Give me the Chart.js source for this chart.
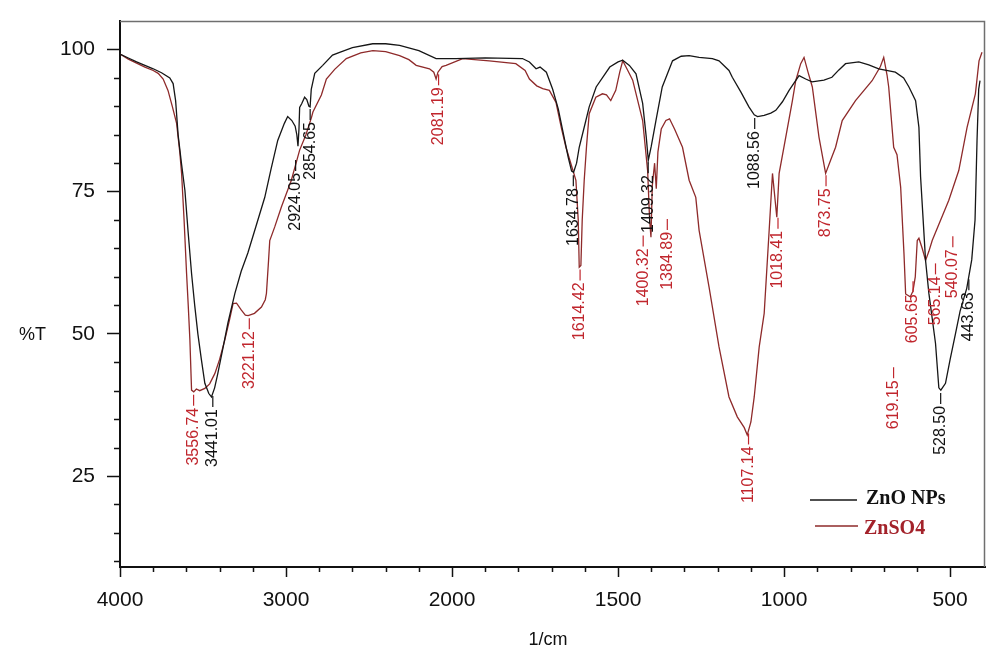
<!DOCTYPE html>
<html>
<head>
<meta charset="utf-8">
<script src="https://cdn.jsdelivr.net/npm/chart.js@4.4.1/dist/chart.umd.min.js"></script>
<style>
  html, body { margin: 0; padding: 0; background: #fff; }
  #wrap { width: 1000px; height: 653px; }
</style>
</head>
<body>
<div id="wrap"><canvas id="ftirChart" width="1000" height="653"></canvas></div>
<script>
// spectra (wavenumber in 1/cm, transmittance in %T)
const zincOxideWn = [4000, 3950, 3900, 3850, 3800, 3750, 3700, 3680, 3665, 3650, 3630, 3609, 3590, 3569, 3550, 3531, 3510, 3489, 3465, 3449,
  3430, 3411, 3380, 3350, 3308, 3270, 3230, 3180, 3128, 3090, 3050, 3010, 2990, 2965, 2945, 2935, 2928, 2922, 2918, 2905,
  2888, 2875, 2862, 2855, 2848, 2827, 2779, 2720, 2677, 2600, 2478, 2400, 2316, 2200, 2096, 1988, 1900, 1788, 1767, 1747,
  1735, 1716, 1697, 1680, 1667, 1650, 1640, 1634, 1625, 1617, 1597, 1587, 1566, 1525, 1500, 1486, 1466, 1446, 1426, 1415,
  1409, 1400, 1386, 1367, 1336, 1310, 1286, 1256, 1216, 1196, 1166, 1156, 1130, 1106, 1090, 1080, 1060, 1040, 1025, 1005,
  985, 955, 935, 916, 880, 856, 835, 815, 775, 745, 715, 665, 640, 624, 604, 594, 589, 580, 574, 564,
  544, 534, 528, 514, 500, 484, 470, 450, 435, 425, 419, 414, 410];
const zincOxideT = [99.2, 98.5, 97.8, 97.2, 96.6, 95.9, 95.0, 94.0, 91.0, 85.0, 80.0, 75.2, 68.0, 60.6, 55.0, 50.0, 45.5, 41.3, 39.5, 38.9,
  40.5, 43.0, 47.5, 51.9, 57.1, 61.0, 64.2, 69.0, 74.0, 79.0, 84.0, 87.0, 88.2, 87.5, 86.5, 85.0, 83.0, 86.0, 89.8, 90.5,
  91.6, 91.2, 90.0, 89.9, 93.0, 95.8, 97.2, 99.0, 99.5, 100.3, 101.0, 101.0, 100.7, 99.8, 98.4, 98.4, 98.5, 98.4, 97.8, 96.6,
  96.9, 96.0, 93.0, 89.5, 85.8, 81.0, 78.6, 78.4, 80.0, 82.8, 87.5, 89.9, 93.4, 96.9, 97.8, 98.1, 97.2, 95.7, 90.5, 84.5,
  80.5, 83.0, 87.5, 93.4, 98.0, 98.8, 98.9, 98.6, 98.4, 98.0, 96.3, 95.1, 92.5, 89.9, 88.5, 88.2, 88.4, 88.8, 89.3, 90.8,
  92.8, 95.4, 94.8, 94.3, 94.6, 95.1, 96.4, 97.5, 97.8, 97.3, 96.6, 96.0, 95.0, 93.4, 91.0, 86.3, 77.6, 68.8, 62.9, 57.1,
  48.3, 40.5, 40.1, 41.3, 45.5, 50.0, 54.0, 58.0, 63.0, 70.0, 84.0, 93.0, 94.5];

const zincSulfateWn = [4000, 3950, 3900, 3850, 3800, 3770, 3740, 3711, 3685, 3659, 3640, 3629, 3614, 3599, 3589, 3579, 3569, 3556, 3540, 3520,
  3489, 3460, 3429, 3400, 3369, 3340, 3319, 3298, 3270, 3245, 3228, 3190, 3148, 3125, 3118, 3105, 3098, 3068, 3028, 2968,
  2918, 2880, 2847, 2838, 2787, 2757, 2707, 2637, 2550, 2477, 2400, 2316, 2260, 2216, 2136, 2110, 2096, 2085, 2060, 2036,
  1968, 1888, 1808, 1780, 1767, 1745, 1727, 1707, 1687, 1670, 1657, 1640, 1627, 1620, 1617, 1612, 1608, 1602, 1595, 1587,
  1567, 1547, 1535, 1522, 1507, 1495, 1486, 1470, 1456, 1426, 1411, 1405, 1401, 1397, 1390, 1385, 1380, 1370, 1356, 1345,
  1330, 1306, 1286, 1266, 1256, 1226, 1196, 1166, 1141, 1120, 1111, 1100, 1090, 1075, 1060, 1045, 1035, 1022, 1015, 995,
  975, 965, 950, 940, 928, 915, 895, 875, 860, 845, 825, 785, 735, 710, 700, 690, 685, 670, 660, 649,
  639, 634, 620, 612, 605, 599, 594, 584, 574, 564, 554, 504, 474, 449, 424, 413, 404];
const zincSulfateT = [99.2, 98.3, 97.6, 96.9, 96.3, 95.8, 94.8, 92.8, 90.0, 87.0, 82.0, 78.2, 70.0, 60.6, 55.0, 48.9, 40.1, 39.8, 40.3, 40.0,
  40.4, 41.2, 43.0, 45.5, 48.9, 52.5, 55.3, 55.4, 54.2, 53.3, 53.2, 53.6, 54.7, 56.0, 57.1, 63.0, 66.4, 68.8, 72.3, 77.0,
  82.3, 85.0, 88.0, 89.0, 92.0, 94.8, 96.5, 98.4, 99.4, 99.8, 99.6, 98.9, 98.2, 97.2, 96.6, 96.0, 94.8, 96.0, 97.0, 97.2,
  98.4, 98.0, 97.5, 96.3, 94.8, 93.6, 93.1, 92.8, 90.7, 86.0, 82.8, 79.5, 77.0, 70.0, 61.7, 62.0, 70.0, 77.0, 83.0, 88.7,
  91.6, 92.2, 92.0, 91.0, 92.8, 96.0, 98.0, 96.2, 94.6, 87.5, 78.7, 70.0, 67.0, 76.0, 80.0, 75.5, 82.0, 86.0, 87.5, 87.8,
  86.0, 82.8, 77.0, 74.0, 68.2, 58.2, 47.7, 38.9, 35.4, 33.5, 32.2, 34.5, 38.9, 47.7, 53.6, 68.2, 78.2, 70.5, 78.2, 84.6,
  91.0, 94.5, 97.5, 98.6, 96.0, 93.4, 84.6, 78.2, 80.5, 82.8, 87.5, 91.0, 94.5, 97.0, 98.6, 95.5, 93.4, 82.8, 81.5, 75.8,
  64.1, 57.0, 56.5, 57.5, 60.0, 66.4, 66.8, 65.0, 62.9, 64.5, 66.4, 73.5, 78.7, 86.3, 92.2, 98.0, 99.5];

// marked peaks
const zincOxidePeaks = [3441.01, 2924.05, 2854.65, 1634.78, 1409.32, 1088.56, 528.50, 443.63];
const zincSulfatePeaks = [3556.74, 3221.12, 2081.19, 1614.42, 1400.32, 1384.89, 1107.14, 1018.41, 873.75, 619.15, 605.65, 565.14, 540.07];

// axis ticks
const xMajorTicks = [4000, 3000, 2000, 1500, 1000, 500];
const xMinorTicks = [3800, 3600, 3400, 3200, 2800, 2600, 2400, 2200, 1900, 1800, 1700, 1600, 1400, 1300, 1200, 1100, 900, 800, 700, 600];
const yMajorTicks = [25, 50, 75, 100];
const yMinorTicks = [10, 15, 20, 30, 35, 40, 45, 55, 60, 65, 70, 80, 85, 90, 95];

const seriesNames = ["ZnO NPs", "ZnSO4"];

const TICK_FONT = "'Liberation Sans', Arial, sans-serif";
const RED_LINE = "#8e2a2a";
const RED_TEXT = "#c0262d";

// label shifts (px) where the software moved crowded labels
const labelShift = {
  "2924.05": [-3, 22], "1400.32": [-8, 4], "1384.89": [11, 28], "1018.41": [0, 20],
  "619.15": [-17, 68], "605.65": [-2, 0], "565.14": [7, 8], "540.07": [16, 4]
};

// FTIR axis: 4000-2000 compressed, 2000-400 at double scale
function wnToUnit(v) { return v >= 2000 ? (4000 - v) / 1000 : 2 + (2000 - v) / 500; }
function unitToWn(u) { return u <= 2 ? 4000 - u * 1000 : 2000 - (u - 2) * 500; }

class FtirScale extends Chart.LinearScale {
  getPixelForValue(value) {
    if (value === null || isNaN(value)) return NaN;
    const u0 = wnToUnit(this.max), u1 = wnToUnit(this.min);
    return this.getPixelForDecimal((wnToUnit(value) - u0) / (u1 - u0));
  }
  getValueForPixel(pixel) {
    const u0 = wnToUnit(this.max), u1 = wnToUnit(this.min);
    return unitToWn(u0 + this.getDecimalForPixel(pixel) * (u1 - u0));
  }
  buildTicks() {
    return xMajorTicks.map(v => ({ value: v }));
  }
}
FtirScale.id = "ftir";
FtirScale.defaults = Chart.LinearScale.defaults;
Chart.register(FtirScale);

function valueAt(wns, ts, w) {
  for (let i = 0; i < wns.length - 1; i++) {
    if (w <= wns[i] && w >= wns[i + 1]) {
      const f = (wns[i] - w) / (wns[i] - wns[i + 1]);
      return ts[i] + f * (ts[i + 1] - ts[i]);
    }
  }
  return ts[ts.length - 1];
}

const minorTicksPlugin = {
  id: "minorTicks",
  afterDraw(chart) {
    const { ctx, chartArea: a, scales: { x, y } } = chart;
    ctx.save();
    ctx.strokeStyle = "#111";
    ctx.lineWidth = 1.5;
    ctx.beginPath();
    xMinorTicks.forEach(v => {
      const px = Math.round(x.getPixelForValue(v)) + 0.5;
      ctx.moveTo(px, a.bottom);
      ctx.lineTo(px, a.bottom + 5);
    });
    yMinorTicks.forEach(v => {
      const py = Math.round(y.getPixelForValue(v)) + 0.5;
      ctx.moveTo(a.left, py);
      ctx.lineTo(a.left - 6, py);
    });
    ctx.stroke();
    // top and right frame
    ctx.strokeStyle = "#6f6f6f";
    ctx.beginPath();
    ctx.moveTo(a.left, a.top + 0.5);
    ctx.lineTo(a.right - 0.5, a.top + 0.5);
    ctx.lineTo(a.right - 0.5, a.bottom);
    ctx.stroke();
    // axis titles
    ctx.fillStyle = "#111";
    ctx.font = "18px " + TICK_FONT;
    ctx.textBaseline = "middle";
    ctx.textAlign = "left";
    ctx.fillText("%T", 19, 335);
    ctx.textAlign = "center";
    ctx.fillText("1/cm", 548, 640);
    ctx.restore();
  }
};

const peakLabelPlugin = {
  id: "peakLabels",
  afterDatasetsDraw(chart) {
    const { ctx, scales: { x, y } } = chart;
    const groups = [
      { peaks: zincOxidePeaks, wn: zincOxideWn, t: zincOxideT, color: "#111" },
      { peaks: zincSulfatePeaks, wn: zincSulfateWn, t: zincSulfateT, color: RED_TEXT }
    ];
    ctx.save();
    ctx.font = "16px " + TICK_FONT;
    ctx.textBaseline = "middle";
    ctx.textAlign = "right";
    groups.forEach(g => {
      g.peaks.forEach(p => {
        const txt = p.toFixed(2);
        const shift = labelShift[txt] || [0, 0];
        const px = x.getPixelForValue(p) + shift[0];
        const py = y.getPixelForValue(valueAt(g.wn, g.t, p)) + 3 + shift[1];
        ctx.save();
        ctx.translate(px, py);
        ctx.rotate(-Math.PI / 2);
        ctx.strokeStyle = g.color;
        ctx.fillStyle = g.color;
        ctx.lineWidth = 1.2;
        ctx.beginPath();
        ctx.moveTo(0, 0);
        ctx.lineTo(-11, 0);
        ctx.stroke();
        ctx.fillText(txt, -13, 0);
        ctx.restore();
      });
    });
    ctx.restore();
  }
};

const legendPlugin = {
  id: "insideLegend",
  afterDraw(chart) {
    const { ctx } = chart;
    const rows = [
      { x0: 810, x1: 857, y: 500, tx: 866, ty: 499 },
      { x0: 815, x1: 858, y: 526, tx: 864, ty: 529 }
    ];
    ctx.save();
    ctx.font = "bold 20px 'Liberation Serif', 'Times New Roman', serif";
    ctx.textBaseline = "middle";
    ctx.textAlign = "left";
    chart.data.datasets.forEach((ds, i) => {
      const r = rows[i];
      ctx.strokeStyle = ds.borderColor;
      ctx.lineWidth = 1.5;
      ctx.beginPath();
      ctx.moveTo(r.x0, r.y);
      ctx.lineTo(r.x1, r.y);
      ctx.stroke();
      ctx.fillStyle = i === 0 ? "#111" : "#a3222a";
      ctx.fillText(ds.label, r.tx, r.ty);
    });
    ctx.restore();
  }
};

const toPoints = (wns, ts) => wns.map((w, i) => ({ x: w, y: ts[i] }));

const canvas = document.getElementById("ftirChart");
const ctx = canvas.getContext("2d");

new Chart(ctx, {
  type: "line",
  data: {
    datasets: [
      {
        label: seriesNames[0],
        data: toPoints(zincOxideWn, zincOxideT),
        borderColor: "#161616",
        borderWidth: 1.3,
        pointRadius: 0,
        tension: 0,
        fill: false
      },
      {
        label: seriesNames[1],
        data: toPoints(zincSulfateWn, zincSulfateT),
        borderColor: RED_LINE,
        borderWidth: 1.3,
        pointRadius: 0,
        tension: 0,
        fill: false
      }
    ]
  },
  options: {
    responsive: false,
    animation: false,
    devicePixelRatio: 1,
    layout: { padding: { top: 21, right: 15, left: 0, bottom: 0 } },
    plugins: {
      legend: { display: false },
      tooltip: { enabled: false }
    },
    scales: {
      x: {
        type: "ftir",
        min: 395,
        max: 4000,
        afterFit: s => { s.height = 86; s.paddingLeft = 0; s.paddingRight = 0; },
        border: { display: true, color: "#111", width: 2 },
        grid: { drawOnChartArea: false, drawTicks: true, tickLength: 10, tickColor: "#111", tickWidth: 1.5 },
        ticks: {
          autoSkip: false,
          maxRotation: 0,
          padding: 11,
          color: "#111",
          font: { family: TICK_FONT, size: 21 },
          callback: v => String(v)
        }
      },
      y: {
        type: "linear",
        min: 9,
        max: 105,
        afterFit: s => { s.width = 120; s.paddingTop = 0; s.paddingBottom = 0; },
        afterBuildTicks: s => { s.ticks = yMajorTicks.map(v => ({ value: v })); },
        border: { display: true, color: "#111", width: 2 },
        grid: { drawOnChartArea: false, drawTicks: true, tickLength: 13, tickColor: "#111", tickWidth: 1.5 },
        ticks: {
          padding: 12,
          color: "#111",
          font: { family: TICK_FONT, size: 21 },
          callback: v => String(v)
        }
      }
    }
  },
  plugins: [minorTicksPlugin, peakLabelPlugin, legendPlugin]
});
</script>
</body>
</html>
